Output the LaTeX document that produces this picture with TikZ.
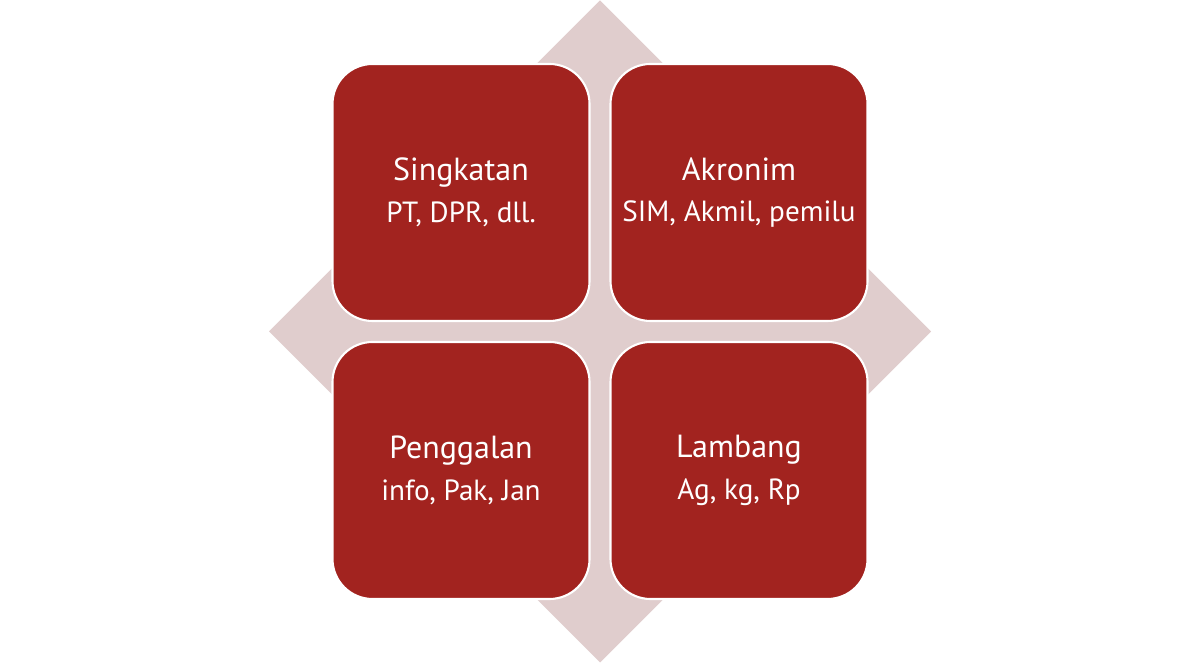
\documentclass[tikz,border=0pt]{standalone}
\usepackage{fontspec}
\setmainfont{PT Sans}
\usetikzlibrary{positioning,shapes.geometric}
\definecolor{boxred}{HTML}{A2231F}
\definecolor{backpink}{HTML}{E0CDCD}
\newcommand{\examples}[1]{{\fontsize{16.6}{23.8}\selectfont #1}}

\begin{document}
\begin{tikzpicture}[
    kind/.style={rectangle, rounded corners=0.8cm, fill=boxred, draw=white,
      line width=1.2pt, minimum size=5.14cm, inner sep=0pt, outer sep=0pt,
      text=white, align=center, font=\fontsize{18.2}{23.8}\selectfont}
  ]

      \useasboundingbox (0,0) rectangle (24,13.26);
      \coordinate (mid) at (12,6.63);
      \node[diamond, fill=backpink, minimum size=13.24cm, inner sep=0pt,
        outer sep=0pt] (back) at (mid) {}; %background diamond

      \node[kind] (sing) [above left=0.21cm and 0.21cm of mid]
        {Singkatan\\\examples{PT, DPR, dll.}};
      \node[kind] (akro) [above right=0.21cm and 0.21cm of mid]
        {Akronim\\\examples{SIM, Akmil, pemilu}};
      \node[kind] (peng) [below left=0.21cm and 0.21cm of mid]
        {Penggalan\\\examples{info, Pak, Jan}};
      \node[kind] (lamb) [below right=0.21cm and 0.21cm of mid]
        {Lambang\\\examples{Ag, kg, Rp}};

\end{tikzpicture}
\end{document}
